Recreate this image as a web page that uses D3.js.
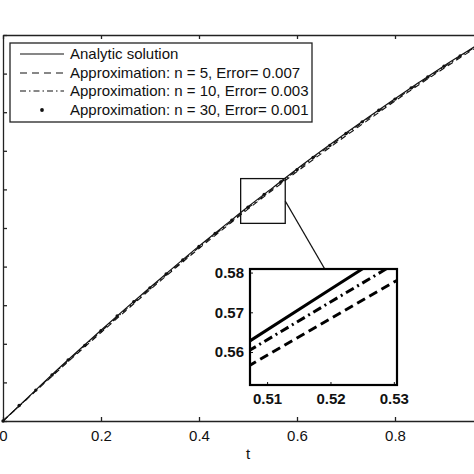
<!DOCTYPE html>
<html>
<head>
<meta charset="utf-8">
<script src="https://cdn.jsdelivr.net/npm/d3@7"></script>
<style>
  body { margin: 0; background: #fff; }
  text { font-family: "Liberation Sans", Arial, Helvetica, sans-serif; fill: #111; }
</style>
</head>
<body>
<div id="vis"></div>
<script>
// values
let tGrid = [0, 0.05, 0.1, 0.15, 0.2, 0.25, 0.3, 0.35, 0.4, 0.45, 0.5, 0.55, 0.6, 0.65, 0.7, 0.75, 0.8, 0.85, 0.9, 0.95, 1.0];
let analytic = [0, 0.060, 0.120, 0.178, 0.235, 0.291, 0.346, 0.400, 0.453, 0.504, 0.555, 0.604, 0.653, 0.700, 0.746, 0.791, 0.835, 0.878, 0.920, 0.960, 1.000];
let approxN5 = [0, 0.058, 0.116, 0.173, 0.229, 0.285, 0.340, 0.394, 0.447, 0.498, 0.549, 0.598, 0.646, 0.693, 0.739, 0.784, 0.829, 0.872, 0.914, 0.955, 0.996];
let approxN10 = [0, 0.059, 0.118, 0.176, 0.232, 0.288, 0.343, 0.397, 0.450, 0.501, 0.552, 0.601, 0.650, 0.697, 0.743, 0.788, 0.832, 0.875, 0.917, 0.958, 0.998];
let tN30 = [0, 0.033, 0.067, 0.1, 0.133, 0.167, 0.2, 0.233, 0.267, 0.3, 0.333, 0.367, 0.4, 0.433, 0.467, 0.5, 0.533, 0.567, 0.6, 0.633, 0.667, 0.7, 0.733, 0.767, 0.8, 0.833, 0.867, 0.9, 0.933, 0.967, 1.0];
let approxN30 = [0, 0.040, 0.080, 0.119, 0.158, 0.196, 0.234, 0.272, 0.309, 0.345, 0.381, 0.417, 0.452, 0.486, 0.520, 0.554, 0.587, 0.619, 0.651, 0.683, 0.714, 0.745, 0.775, 0.805, 0.834, 0.863, 0.891, 0.919, 0.946, 0.973, 0.999];

// inset (zoomed) values
let insetT = [0.507, 0.520, 0.531];
let insetAnalytic = [0.5625, 0.5758, 0.5870];
let insetN10 = [0.5602, 0.5726, 0.5830];
let insetN5 = [0.5564, 0.5684, 0.5785];

let xTicks = [0, 0.2, 0.4, 0.6, 0.8, 1];
let xTickLabels = ['0', '0.2', '0.4', '0.6', '0.8', ''];
let yTicks = [0, 0.1, 0.2, 0.3, 0.4, 0.5, 0.6, 0.7, 0.8, 0.9, 1];
let insetXTicks = [0.51, 0.52, 0.53];
let insetYTicks = [0.56, 0.57, 0.58];

let legendLabels = ['Analytic solution', 'Approximation: n = 5, Error= 0.007', 'Approximation: n = 10, Error= 0.003', 'Approximation: n = 30, Error= 0.001'];

// zoom box drawn on the main plot, in data units
let zoomBox = { t0: 0.485, t1: 0.576, y0: 0.512, y1: 0.628 };

let W = 474, H = 474;

let svg = d3.select('#vis')
    .append('svg')
    .attr('width', W)
    .attr('height', H)
    .style('background-color', '#fff');

let x = d3.scaleLinear().domain([0, 1]).range([3, 493]);
let y = d3.scaleLinear().domain([0, 1]).range([421, 35]);

// frame + inward ticks
let bottomAxis = svg.append('g')
    .attr('transform', 'translate(0,421)')
    .call(d3.axisBottom(x).tickValues(xTicks).tickSizeInner(-4).tickSizeOuter(0).tickPadding(9)
        .tickFormat((d, i) => xTickLabels[i]));
let topAxis = svg.append('g')
    .attr('transform', 'translate(0,35)')
    .call(d3.axisTop(x).tickValues(xTicks).tickSizeInner(-4).tickSizeOuter(0).tickFormat(''));
let leftAxis = svg.append('g')
    .attr('transform', 'translate(3,0)')
    .call(d3.axisLeft(y).tickValues(yTicks).tickSizeInner(-4).tickSizeOuter(0).tickFormat(''));

svg.selectAll('.domain, .tick line').attr('stroke', '#222').attr('stroke-width', 1.3);
bottomAxis.selectAll('text').style('font-size', '15px').attr('fill', '#111');

svg.append('text')
    .attr('x', 248)
    .attr('y', 459)
    .attr('text-anchor', 'middle')
    .style('font-size', '15px')
    .text('t');

// main curves
let line = d3.line().x(d => x(d[0])).y(d => y(d[1])).curve(d3.curveMonotoneX);

svg.append('path')
    .datum(d3.zip(tGrid, approxN5))
    .attr('d', line)
    .attr('fill', 'none')
    .attr('stroke', '#111')
    .attr('stroke-width', 1.1)
    .attr('stroke-dasharray', '6,4');

svg.append('path')
    .datum(d3.zip(tGrid, approxN10))
    .attr('d', line)
    .attr('fill', 'none')
    .attr('stroke', '#111')
    .attr('stroke-width', 1.1)
    .attr('stroke-dasharray', '6,3,1.5,3');

svg.append('path')
    .datum(d3.zip(tGrid, analytic))
    .attr('d', line)
    .attr('fill', 'none')
    .attr('stroke', '#111')
    .attr('stroke-width', 1.2);

svg.selectAll('.dot30')
    .data(d3.zip(tN30, approxN30))
    .enter()
    .append('circle')
    .attr('class', 'dot30')
    .attr('cx', d => x(d[0]))
    .attr('cy', d => y(d[1]))
    .attr('r', 1.7)
    .attr('fill', '#111');

// legend
let legend = svg.append('g');
legend.append('rect')
    .attr('x', 10)
    .attr('y', 43)
    .attr('width', 302)
    .attr('height', 79)
    .attr('fill', '#fff')
    .attr('stroke', '#222')
    .attr('stroke-width', 1.3);

let rowY = [54, 73, 91, 110];
let dashes = [null, '7,5', '6,3,1.5,3', null];
legendLabels.forEach(function(lab, i) {
    if (i < 3) {
        legend.append('line')
            .attr('x1', 20).attr('x2', 64)
            .attr('y1', rowY[i]).attr('y2', rowY[i])
            .attr('stroke', '#111')
            .attr('stroke-width', 1.2)
            .attr('stroke-dasharray', dashes[i]);
    } else {
        legend.append('circle')
            .attr('cx', 42).attr('cy', rowY[i]).attr('r', 1.9)
            .attr('fill', '#111');
    }
    legend.append('text')
        .attr('x', 70)
        .attr('y', rowY[i])
        .attr('dy', '0.36em')
        .style('font-size', '15px')
        .text(lab);
});

// zoom box + connector
svg.append('rect')
    .attr('x', x(zoomBox.t0))
    .attr('y', y(zoomBox.y1))
    .attr('width', x(zoomBox.t1) - x(zoomBox.t0))
    .attr('height', y(zoomBox.y0) - y(zoomBox.y1))
    .attr('fill', 'none')
    .attr('stroke', '#111')
    .attr('stroke-width', 1.3);

// inset
let ix = d3.scaleLinear().domain([0.5073, 0.5305]).range([250, 397]);
let iy = d3.scaleLinear().domain([0.5517, 0.5809]).range([385, 269]);

svg.append('line')
    .attr('x1', x(zoomBox.t1))
    .attr('y1', y((zoomBox.y0 + zoomBox.y1) / 2))
    .attr('x2', ix(0.5191))
    .attr('y2', iy(0.5809))
    .attr('stroke', '#111')
    .attr('stroke-width', 1.3);

let inset = svg.append('g');
inset.append('rect')
    .attr('x', 250).attr('y', 269)
    .attr('width', 147).attr('height', 116)
    .attr('fill', '#fff');

inset.append('clipPath')
    .attr('id', 'insetClip')
    .append('rect')
    .attr('x', 250).attr('y', 269)
    .attr('width', 147).attr('height', 116);

let iline = d3.line().x(d => ix(d[0])).y(d => iy(d[1]));
let insetSeries = [
    { v: insetAnalytic, dash: null },
    { v: insetN10, dash: '9,4,2,4' },
    { v: insetN5, dash: '9,5' }
];
insetSeries.forEach(function(s) {
    inset.append('path')
        .datum(d3.zip(insetT, s.v))
        .attr('d', iline)
        .attr('clip-path', 'url(#insetClip)')
        .attr('fill', 'none')
        .attr('stroke', '#000')
        .attr('stroke-width', 3)
        .attr('stroke-dasharray', s.dash);
});

let ib = inset.append('g')
    .attr('transform', 'translate(0,385)')
    .call(d3.axisBottom(ix).tickValues(insetXTicks).tickSizeInner(-3).tickSizeOuter(0).tickPadding(8)
        .tickFormat(d3.format('.2f')));
let il = inset.append('g')
    .attr('transform', 'translate(250,0)')
    .call(d3.axisLeft(iy).tickValues(insetYTicks).tickSizeInner(-3).tickSizeOuter(0).tickPadding(6)
        .tickFormat(d3.format('.2f')));
inset.selectAll('.domain').remove();
inset.selectAll('.tick line').attr('stroke', '#111').attr('stroke-width', 1);
inset.selectAll('text').style('font-size', '15px').style('font-weight', 'bold').attr('fill', '#111');

inset.append('rect')
    .attr('x', 250).attr('y', 269)
    .attr('width', 147).attr('height', 116)
    .attr('fill', 'none')
    .attr('stroke', '#000')
    .attr('stroke-width', 2.2);
</script>
</body>
</html>
